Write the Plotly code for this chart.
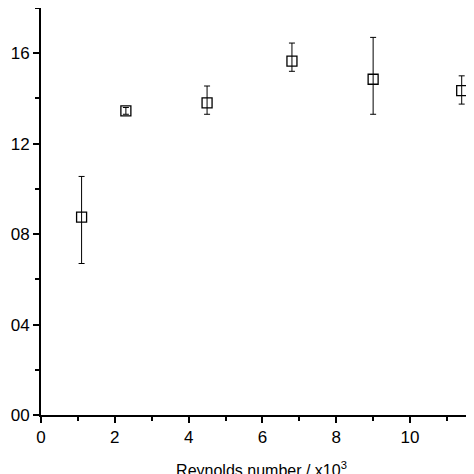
import plotly.graph_objects as go

# data
reynolds = [1.1, 2.3, 4.5, 6.8, 9.0, 11.4]
value = [8.75, 13.45, 13.8, 15.65, 14.85, 14.35]
err_plus = [1.8, 0.15, 0.75, 0.8, 1.85, 0.65]
err_minus = [2.05, 0.15, 0.5, 0.45, 1.55, 0.6]
y_ticks = [0, 4, 8, 12, 16]
y_labels = ["00", "04", "08", "12", "16"]

fig = go.Figure()
fig.add_trace(go.Scatter(
    x=reynolds, y=value, mode="markers",
    marker=dict(symbol="square-open", size=10, color="black", line=dict(width=1.3)),
    error_y=dict(type="data", symmetric=False, array=err_plus, arrayminus=err_minus,
                 color="black", thickness=1, width=3),
    showlegend=False,
))

axis_style = dict(showline=True, linecolor="black", linewidth=2, ticks="outside",
                  ticklen=6, tickwidth=2, tickcolor="black", showgrid=False, zeroline=False,
                  tickfont=dict(size=17, color="black", family="Liberation Sans"))
minor_style = dict(ticks="outside", ticklen=4, tickwidth=1.5, tickcolor="black")

fig.update_xaxes(range=[0, 11.95], tickvals=[0, 2, 4, 6, 8, 10],
                 minor=dict(dtick=1, **minor_style), **axis_style,
                 title=dict(text="Reynolds number / x10<sup>3</sup>",
                            font=dict(size=16, color="black", family="Liberation Sans"),
                            standoff=18))
fig.update_yaxes(range=[0, 18], tickvals=y_ticks, ticktext=y_labels,
                 minor=dict(tickvals=[2, 6, 10, 14, 18], **minor_style), **axis_style)

fig.update_layout(width=474, height=474, plot_bgcolor="white", paper_bgcolor="white",
                  margin=dict(l=33, r=0, t=0, b=67))
fig.write_html("out.html")
